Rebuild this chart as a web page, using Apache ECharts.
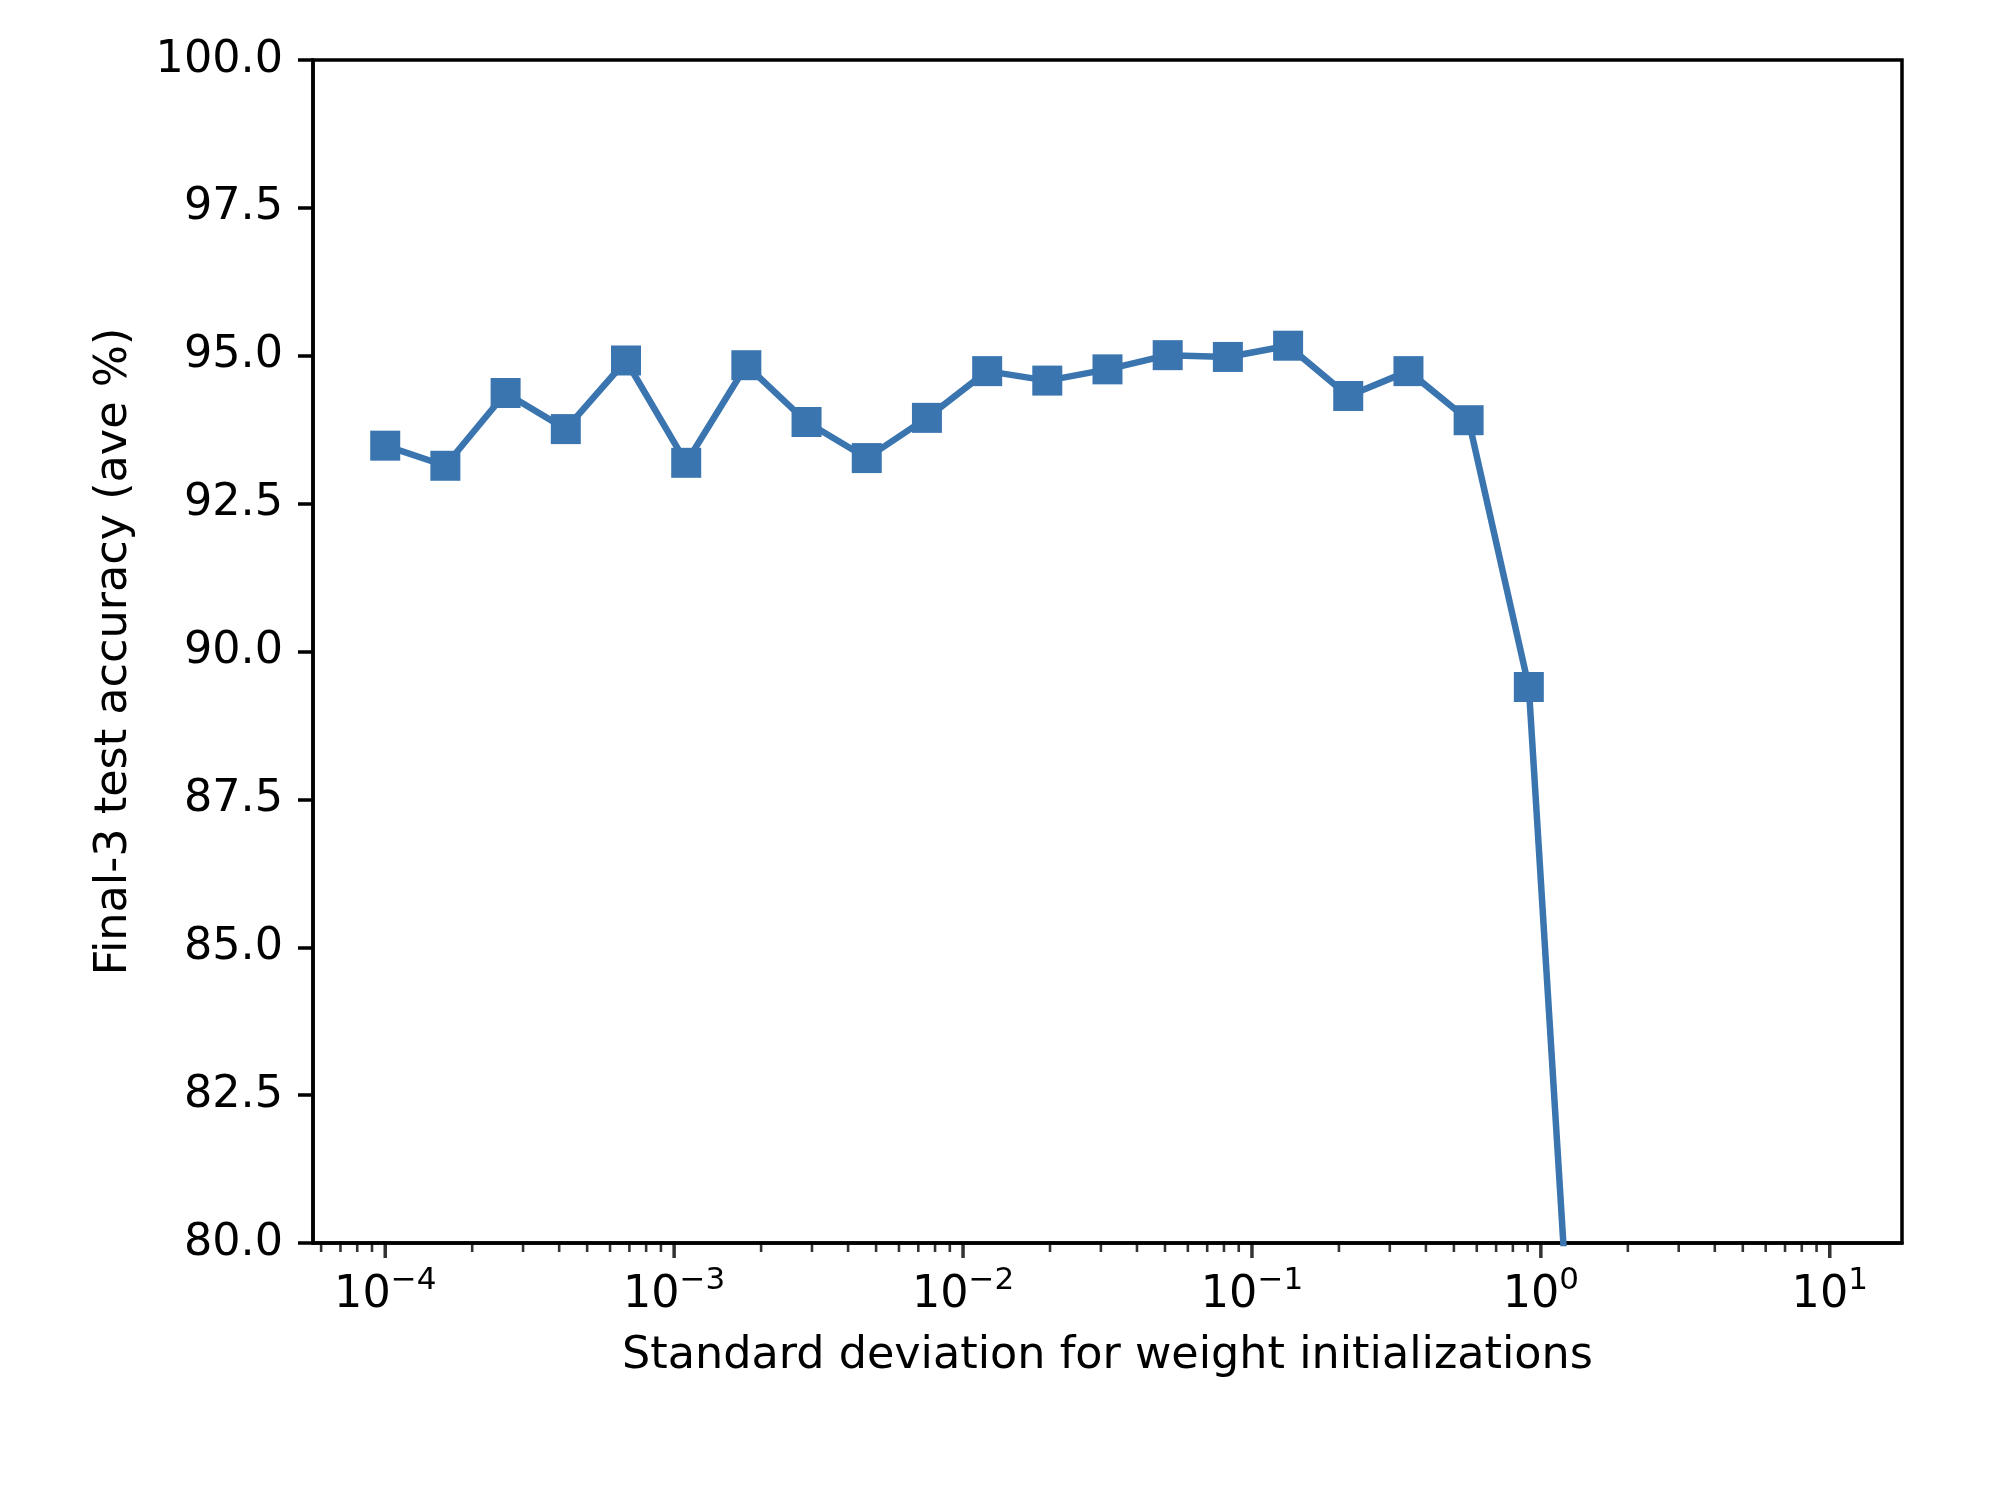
<!DOCTYPE html>
<html>
<head>
<meta charset="utf-8">
<script src="https://cdn.jsdelivr.net/npm/echarts@6/dist/echarts.min.js"></script>
<style>
  html, body { margin: 0; padding: 0; background: #ffffff; }
  #chart { width: 2004px; height: 1504px; }
</style>
</head>
<body>
<div id="chart"></div>
<script>
// Standard deviation used for weight initialization (x values)
const stdDevs = [
  1.000e-4, 1.615e-4, 2.610e-4, 4.217e-4, 6.813e-4,
  1.101e-3, 1.778e-3, 2.873e-3, 4.642e-3, 7.499e-3,
  1.212e-2, 1.957e-2, 3.162e-2, 5.109e-2, 8.254e-2,
  0.1334, 0.2154, 0.3481, 0.5623, 0.9085,
  1.468
];
// Final-3 test accuracy (ave %)
const accuracy = [
  93.48, 93.14, 94.37, 93.76, 94.92,
  93.19, 94.84, 93.88, 93.27, 93.95,
  94.74, 94.58, 94.77, 95.01, 94.98,
  95.17, 94.32, 94.74, 93.91, 89.40,
  73.0
];
// Axis ticks
const yTicks = [80.0, 82.5, 85.0, 87.5, 90.0, 92.5, 95.0, 97.5, 100.0];
const xMajorTicks = [1e-4, 1e-3, 1e-2, 1e-1, 1e0, 1e1];
const xMinorMultipliers = [2, 3, 4, 5, 6, 7, 8, 9];
const xMinorDecades = [1e-5, 1e-4, 1e-3, 1e-2, 1e-1, 1e0, 1e1];

const xMin = Math.pow(10, -4.25);
const xMax = Math.pow(10, 1.25);

const minorTicks = [];
xMinorDecades.forEach(d => xMinorMultipliers.forEach(m => {
  const v = d * m;
  if (v > xMin && v < xMax) minorTicks.push([v, 80]);
}));
const majorTicks = xMajorTicks.map(v => [v, 80]);

const lineColor = '#3a75b0';
const font = 'DejaVu Sans';
const fs = 44.5;

const chart = echarts.init(document.getElementById('chart'), null, { renderer: 'canvas' });
chart.setOption({
  backgroundColor: '#ffffff',
  animation: false,
  grid: {
    left: 313, right: 102, top: 60, bottom: 261,
    show: true, borderColor: '#000000', borderWidth: 3.5,
    backgroundColor: 'transparent'
  },
  xAxis: {
    type: 'log',
    logBase: 10,
    min: xMin,
    max: xMax,
    name: 'Standard deviation for weight initializations',
    nameLocation: 'middle',
    nameGap: 91,
    nameTextStyle: { fontFamily: font, fontSize: fs, color: '#000000' },
    axisLine: { show: true, lineStyle: { color: '#000000', width: 3.5 } },
    axisTick: { show: false },
    minorTick: { show: false },
    splitLine: { show: false },
    axisLabel: {
      showMinLabel: false,
      showMaxLabel: false,
      margin: 22,
      color: '#000000',
      fontFamily: font,
      formatter: function (v) {
        const lg = Math.log10(v);
        const e = Math.round(lg);
        if (Math.abs(lg - e) > 1e-6) return '';
        const es = e < 0 ? '\u2212' + (-e) : String(e);
        return '{b|10}{s|' + es + '}';
      },
      rich: {
        b: { fontFamily: font, fontSize: fs, color: '#000000', lineHeight: 53, verticalAlign: 'bottom' },
        s: { fontFamily: font, fontSize: 31, color: '#000000', lineHeight: 34, verticalAlign: 'top' }
      }
    }
  },
  yAxis: {
    type: 'value',
    min: yTicks[0],
    max: yTicks[yTicks.length - 1],
    interval: 2.5,
    name: 'Final-3 test accuracy (ave %)',
    nameLocation: 'middle',
    nameRotate: 90,
    nameGap: 176,
    nameTextStyle: { fontFamily: font, fontSize: fs, color: '#000000' },
    axisLine: { show: true, lineStyle: { color: '#000000', width: 3.5 } },
    axisTick: { show: true, inside: false, length: 15, lineStyle: { color: '#000000', width: 3.5 } },
    splitLine: { show: false },
    axisLabel: {
      margin: 30,
      color: '#000000',
      fontFamily: font,
      fontSize: fs,
      formatter: function (v) { return v.toFixed(1); }
    }
  },
  series: [
    {
      type: 'line',
      data: stdDevs.map((x, i) => [x, accuracy[i]]),
      clip: true,
      symbol: 'rect',
      symbolSize: 30,
      showAllSymbol: true,
      lineStyle: { color: lineColor, width: 6.5 },
      itemStyle: { color: lineColor },
      z: 3
    },
    {
      type: 'scatter',
      data: majorTicks,
      symbol: 'rect',
      symbolSize: [3.5, 15],
      symbolOffset: [0, 7.5],
      itemStyle: { color: '#000000' },
      clip: false,
      silent: true,
      z: 4
    },
    {
      type: 'scatter',
      data: minorTicks,
      symbol: 'rect',
      symbolSize: [2.6, 9],
      symbolOffset: [0, 4.5],
      itemStyle: { color: '#000000' },
      clip: false,
      silent: true,
      z: 4
    }
  ]
});
</script>
</body>
</html>
